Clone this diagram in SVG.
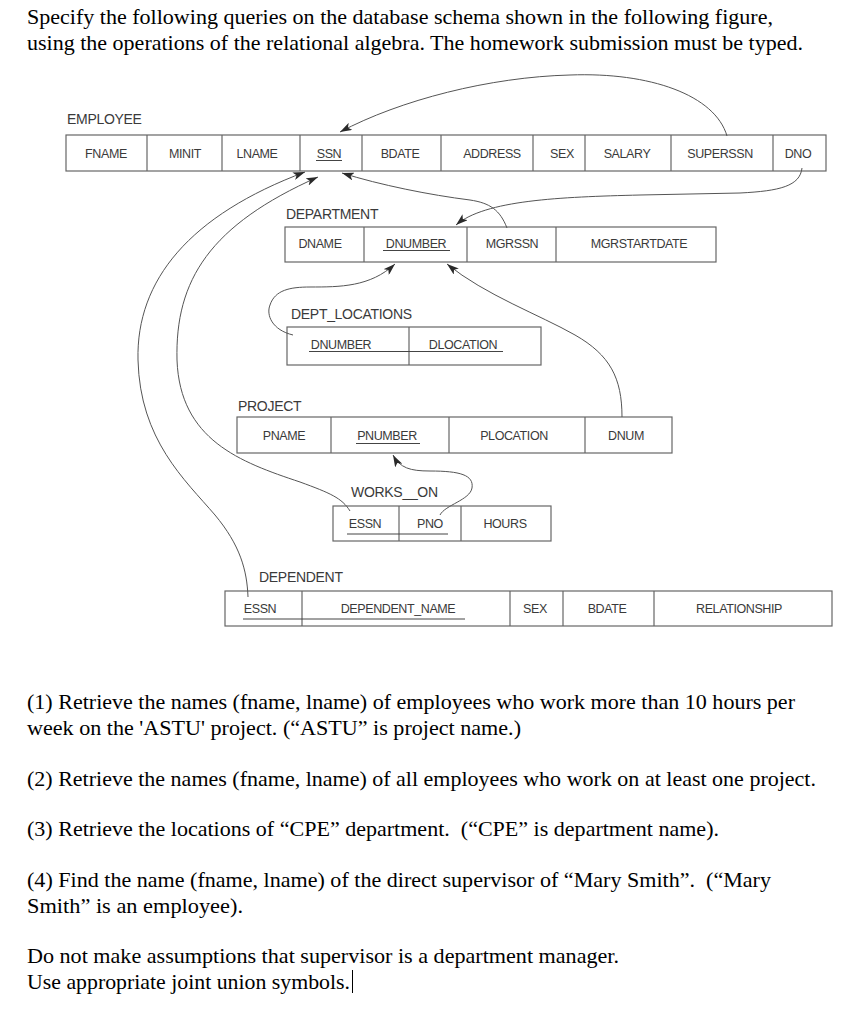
<svg xmlns="http://www.w3.org/2000/svg" width="868" height="1024" viewBox="0 0 868 1024">
<style>
.q{font-family:"Liberation Serif","Times New Roman",serif;font-size:21.5px;fill:#000}
.t{fill:none;stroke:#666;stroke-width:1.2}
.d{stroke:#666;stroke-width:1.2}
.c{font-family:"Liberation Sans",Arial,sans-serif;font-size:12.5px;letter-spacing:-0.4px;fill:#3a3a3a;text-anchor:middle}
.l{font-family:"Liberation Sans",Arial,sans-serif;font-size:14px;letter-spacing:-0.3px;fill:#3a3a3a}
.u{stroke:#444;stroke-width:1}
.a{fill:none;stroke:#555;stroke-width:1;marker-end:url(#ah)}
</style>
<defs>
<marker id="ah" viewBox="0 0 12 8" refX="12" refY="4" markerWidth="12" markerHeight="8" markerUnits="userSpaceOnUse" orient="auto">
<path d="M0,0 L12,4 L0,8 L3,4 z" fill="#2a2a2a"/>
</marker>
</defs>
<rect width="868" height="1024" fill="#fff"/>
<g id="title">
<text class="q" x="27" y="24" textLength="746" lengthAdjust="spacingAndGlyphs">Specify the following queries on the database schema shown in the following figure,</text>
<text class="q" x="27" y="50" textLength="776" lengthAdjust="spacingAndGlyphs">using the operations of the relational algebra. The homework submission must be typed.</text>
</g>
<g id="employee">
<text class="l" x="67" y="124">EMPLOYEE</text>
<rect class="t" x="66" y="135" width="760" height="36"/>
<line class="d" x1="147" y1="135" x2="147" y2="171"/>
<line class="d" x1="222" y1="135" x2="222" y2="171"/>
<line class="d" x1="300" y1="135" x2="300" y2="171"/>
<line class="d" x1="362" y1="135" x2="362" y2="171"/>
<line class="d" x1="441" y1="135" x2="441" y2="171"/>
<line class="d" x1="533" y1="135" x2="533" y2="171"/>
<line class="d" x1="585" y1="135" x2="585" y2="171"/>
<line class="d" x1="671" y1="135" x2="671" y2="171"/>
<line class="d" x1="773" y1="135" x2="773" y2="171"/>
<text class="c" x="106" y="158">FNAME</text>
<text class="c" x="185" y="158">MINIT</text>
<text class="c" x="257" y="158">LNAME</text>
<text class="c" x="329" y="158">SSN</text>
<text class="c" x="400" y="158">BDATE</text>
<text class="c" x="492" y="158">ADDRESS</text>
<text class="c" x="562" y="158">SEX</text>
<text class="c" x="627" y="158">SALARY</text>
<text class="c" x="720" y="158">SUPERSSN</text>
<text class="c" x="798" y="158">DNO</text>
<line class="u" x1="316" y1="160.5" x2="342" y2="160.5"/>
</g>
<g id="department">
<text class="l" x="286" y="219">DEPARTMENT</text>
<rect class="t" x="285" y="227" width="431" height="35"/>
<line class="d" x1="364" y1="227" x2="364" y2="262"/>
<line class="d" x1="467" y1="227" x2="467" y2="262"/>
<line class="d" x1="556" y1="227" x2="556" y2="262"/>
<text class="c" x="320" y="248">DNAME</text>
<text class="c" x="416" y="248">DNUMBER</text>
<text class="c" x="512" y="248">MGRSSN</text>
<text class="c" x="639" y="248">MGRSTARTDATE</text>
<line class="u" x1="383" y1="250.5" x2="450" y2="250.5"/>
</g>
<g id="dept_locations">
<text class="l" x="291" y="319">DEPT_LOCATIONS</text>
<rect class="t" x="287" y="327" width="254" height="38"/>
<line class="d" x1="409" y1="327" x2="409" y2="365"/>
<text class="c" x="341" y="349">DNUMBER</text>
<text class="c" x="463" y="349">DLOCATION</text>
<line class="u" x1="309" y1="351.5" x2="503" y2="351.5"/>
</g>
<g id="project">
<text class="l" x="238" y="411">PROJECT</text>
<rect class="t" x="237" y="417" width="435" height="36"/>
<line class="d" x1="331" y1="417" x2="331" y2="453"/>
<line class="d" x1="449" y1="417" x2="449" y2="453"/>
<line class="d" x1="585" y1="417" x2="585" y2="453"/>
<text class="c" x="284" y="440">PNAME</text>
<text class="c" x="387" y="440">PNUMBER</text>
<text class="c" x="514" y="440">PLOCATION</text>
<text class="c" x="626" y="440">DNUM</text>
<line class="u" x1="356" y1="443.5" x2="420" y2="443.5"/>
</g>
<g id="works_on">
<text class="l" x="351" y="497">WORKS__ON</text>
<rect class="t" x="333" y="506" width="218" height="35"/>
<line class="d" x1="399" y1="506" x2="399" y2="541"/>
<line class="d" x1="461" y1="506" x2="461" y2="541"/>
<text class="c" x="365" y="528">ESSN</text>
<text class="c" x="430" y="528">PNO</text>
<text class="c" x="505" y="528">HOURS</text>
<line class="u" x1="347" y1="534" x2="448" y2="534"/>
</g>
<g id="dependent">
<text class="l" x="259" y="582">DEPENDENT</text>
<rect class="t" x="225" y="591" width="607" height="35"/>
<line class="d" x1="302" y1="591" x2="302" y2="626"/>
<line class="d" x1="510" y1="591" x2="510" y2="626"/>
<line class="d" x1="563" y1="591" x2="563" y2="626"/>
<line class="d" x1="654" y1="591" x2="654" y2="626"/>
<text class="c" x="260" y="613">ESSN</text>
<text class="c" x="398" y="613">DEPENDENT_NAME</text>
<text class="c" x="535" y="613">SEX</text>
<text class="c" x="607" y="613">BDATE</text>
<text class="c" x="739" y="613">RELATIONSHIP</text>
<line class="u" x1="243" y1="619" x2="465" y2="619"/>
</g>
<g id="connectors">
<path class="a" d="M727,136 C715,95 650,72 570,75 C490,77 400,100 340,132"/>
<path class="a" d="M802,168 C800,186 780,191 740,193 L640,195 C560,197 485,200 456,225"/>
<path class="a" d="M507,228 C500,210 490,203 470,200 C430,195 380,185 342,173"/>
<path class="a" d="M293,335 C272,330 266,315 270,305 C275,290 290,287 310,287 C340,287 370,287 395,264"/>
<path class="a" d="M622,417 C622,378 610,355 575,335 S485,295 447,264"/>
<path class="a" d="M350,511 C342,498 330,493 300,482 C240,462 180,440 177,360 C175,280 210,225 318,177"/>
<path class="a" d="M248,597 C247,570 240,545 215,515 C185,480 140,440 138,360 C136,280 190,215 305,172"/>
<path class="a" d="M440,515 C445,505 470,500 472,488 C474,475 460,471 430,471 C410,471 400,468 393,455"/>
</g>
<g id="questions">
<text class="q" x="27" y="709" textLength="768" lengthAdjust="spacingAndGlyphs">(1) Retrieve the names (fname, lname) of employees who work more than 10 hours per</text>
<text class="q" x="27" y="735" textLength="494" lengthAdjust="spacingAndGlyphs">week on the 'ASTU' project. (“ASTU” is project name.)</text>
<text class="q" x="27" y="786" textLength="789" lengthAdjust="spacingAndGlyphs">(2) Retrieve the names (fname, lname) of all employees who work on at least one project.</text>
<text class="q" x="27" y="836" textLength="692" lengthAdjust="spacingAndGlyphs">(3) Retrieve the locations of “CPE” department. &#160;(“CPE” is department name).</text>
<text class="q" x="27" y="887" textLength="744" lengthAdjust="spacingAndGlyphs">(4) Find the name (fname, lname) of the direct supervisor of “Mary Smith”. &#160;(“Mary</text>
<text class="q" x="27" y="913" textLength="216" lengthAdjust="spacingAndGlyphs">Smith” is an employee).</text>
<text class="q" x="27" y="963" textLength="592" lengthAdjust="spacingAndGlyphs">Do not make assumptions that supervisor is a department manager.</text>
<text class="q" x="27" y="989" textLength="323" lengthAdjust="spacingAndGlyphs">Use appropriate joint union symbols.</text>
<line x1="352.5" y1="970" x2="352.5" y2="993" stroke="#000" stroke-width="1"/>
</g>
</svg>
